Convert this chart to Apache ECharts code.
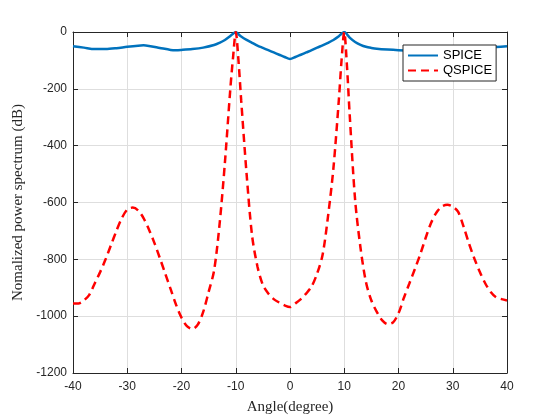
<!DOCTYPE html>
<html>
<head>
<meta charset="utf-8">
<script src="https://cdn.jsdelivr.net/npm/echarts@6/dist/echarts.min.js"></script>
<style>
html,body{margin:0;padding:0;background:#fff;}
#chart{width:560px;height:420px;}
</style>
</head>
<body>
<div id="chart"></div>
<script>
var xTicks = [-40, -30, -20, -10, 0, 10, 20, 30, 40];
var yTicks = [-1200, -1000, -800, -600, -400, -200, 0];

var spiceAngles = [-40,-38,-36,-34,-32,-30,-28,-27,-26,-24,-22,-21,-20,-18,-16,-14,-13,-12,-11,-10.5,-10,-9.5,-9,-8,-7,-6,-5,-4,-3,-2,-1,0,1,2,3,4,5,6,7,8,9,9.5,10,10.5,11,12,13,14,15,16,18,20,22,24,26,28,30,32,34,36,38,40];
var spiceValues = [-50,-55,-60,-60,-57,-52,-48,-47,-49,-56,-63,-64,-63,-60,-55,-46,-38,-28,-14,-6,0,-8,-16,-28,-38,-48,-56,-64,-72,-80,-88,-95,-88,-80,-72,-64,-55,-47,-38,-28,-15,-6,0,-8,-20,-35,-45,-52,-56,-59,-62,-64,-65,-65,-64,-63,-62,-60,-58,-56,-53,-50];

var qspiceAngles = [-40,-39,-38.5,-38,-37,-36,-35,-34,-33,-32,-31,-30,-29,-28,-27,-26,-25,-24,-23,-22,-21,-20,-19,-18,-17,-16,-15,-14,-13,-12,-11,-10.5,-10,-9.5,-9,-8,-7,-6,-5,-4,-3,-2,-1,0,1,2,3,4,5,6,7,8,9,9.5,10,10.5,11,12,13,14,15,16,17,18,19,20,21,22,23,24,25,26,27,28,29,30,31,32,33,34,35,36,37,38,39,40];
var qspiceValues = [-955,-955,-952,-945,-925,-885,-845,-800,-750,-700,-655,-625,-618,-628,-655,-695,-742,-795,-850,-905,-960,-1005,-1035,-1045,-1030,-985,-915,-840,-680,-460,-200,-90,0,-100,-240,-500,-715,-825,-890,-920,-940,-952,-962,-968,-955,-940,-920,-895,-850,-785,-650,-480,-240,-100,0,-120,-290,-590,-760,-880,-945,-985,-1015,-1028,-1022,-990,-935,-885,-835,-783,-725,-672,-635,-614,-608,-615,-633,-685,-745,-798,-845,-885,-915,-934,-940,-945];

function pairs(xs, ys){ return xs.map(function(x,i){ return [x, ys[i]]; }); }

var axisColor = '#262626';
var gridColor = '#dedede';
var chart = echarts.init(document.getElementById('chart'), null, {renderer:'canvas'});

var xBase = {
  type:'value', min:xTicks[0], max:xTicks[xTicks.length-1], interval:10,
  axisLine:{show:true, onZero:false, lineStyle:{color:axisColor, width:1}},
  axisTick:{show:true, inside:true, length:5, lineStyle:{color:axisColor}},
  splitLine:{show:false}
};
var yBase = {
  type:'value', min:yTicks[0], max:yTicks[yTicks.length-1], interval:200,
  axisLine:{show:true, onZero:false, lineStyle:{color:axisColor, width:1}},
  axisTick:{show:true, inside:true, length:5, lineStyle:{color:axisColor}},
  splitLine:{show:false}
};

chart.setOption({
  animation:false,
  backgroundColor:'#fff',
  grid:{left:73, right:53, top:32, bottom:46, containLabel:false},
  legend:{
    orient:'vertical', left:403, top:45,
    backgroundColor:'#fff', borderColor:axisColor, borderWidth:1, borderRadius:0,
    padding:[4,4,4,4], itemGap:2, itemWidth:30, itemHeight:14,
    itemStyle:{opacity:0, borderWidth:0},
    textStyle:{fontFamily:'Arial, "Liberation Sans", sans-serif', fontSize:13, color:'#000'},
    data:['SPICE','QSPICE']
  },
  xAxis:[
    Object.assign({}, xBase, {
      position:'bottom',
      name:'Angle(degree)', nameLocation:'middle', nameGap:27,
      nameTextStyle:{fontFamily:'"Times New Roman","Liberation Serif",serif', fontSize:15, color:axisColor},
      axisLabel:{show:true, margin:8, color:axisColor, fontSize:12, fontFamily:'Arial, "Liberation Sans", sans-serif',
        formatter:function(v){ return String(v); }},
      splitLine:{show:true, lineStyle:{color:gridColor, width:1}}
    }),
    Object.assign({}, xBase, {position:'top', axisLabel:{show:false}})
  ],
  yAxis:[
    Object.assign({}, yBase, {
      position:'left',
      name:'Nomalized power spectrum (dB)', nameLocation:'middle', nameGap:32,
      nameTextStyle:{fontFamily:'"Times New Roman","Liberation Serif",serif', fontSize:15, color:axisColor},
      axisLabel:{show:true, margin:6, color:axisColor, fontSize:12, fontFamily:'Arial, "Liberation Sans", sans-serif',
        formatter:function(v){ return String(v); }},
      splitLine:{show:true, lineStyle:{color:gridColor, width:1}}
    }),
    Object.assign({}, yBase, {position:'right', axisLabel:{show:false}})
  ],
  series:[
    {
      name:'SPICE', type:'line', xAxisIndex:0, yAxisIndex:0,
      data:pairs(spiceAngles, spiceValues), symbol:'circle', showSymbol:false, smooth:0.3,
      lineStyle:{color:'#0072BD', width:2.5}, itemStyle:{color:'#0072BD'}, z:3
    },
    {
      name:'QSPICE', type:'line', xAxisIndex:0, yAxisIndex:0,
      data:pairs(qspiceAngles, qspiceValues), symbol:'circle', showSymbol:false, smooth:0.3,
      lineStyle:{color:'#FF0000', width:2.5, type:[8,5]}, itemStyle:{color:'#FF0000'}, z:4
    }
  ]
});
</script>
</body>
</html>
